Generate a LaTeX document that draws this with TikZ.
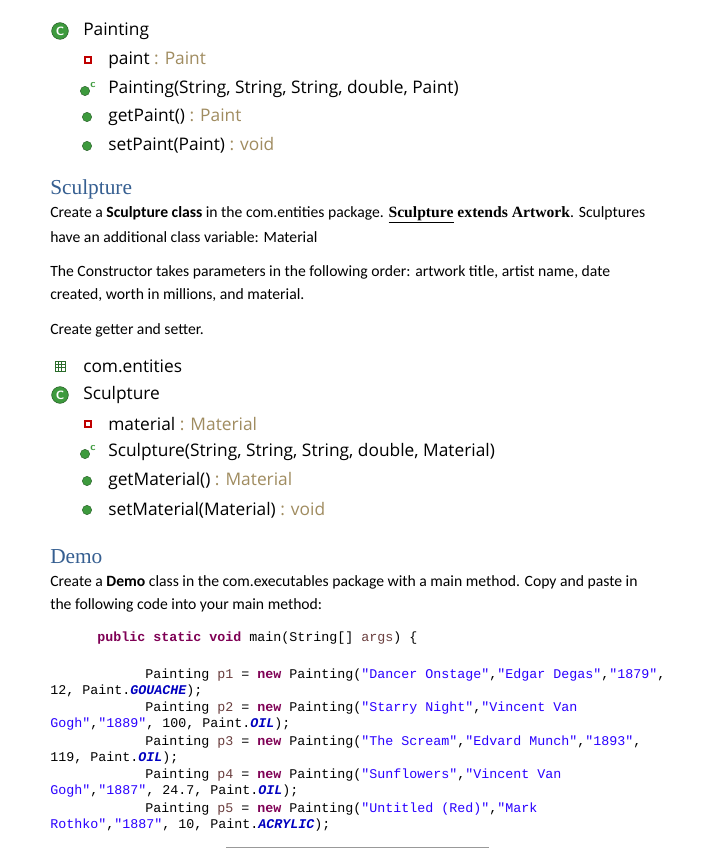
\documentclass[tikz,border=0pt]{standalone}
\usepackage{fontspec}
\setmainfont{Carlito}
\newfontfamily\eclf{Open Sans}
\newfontfamily\headf{Liberation Serif}
\newfontfamily\codef{Liberation Mono}
\definecolor{hblue}{HTML}{365F91}
\definecolor{kw}{HTML}{7F0055}
\definecolor{str}{HTML}{2A00FF}
\definecolor{var}{HTML}{6A3E3E}
\definecolor{enm}{HTML}{0000C0}
\definecolor{tan}{HTML}{A08C60}
\definecolor{igreen}{HTML}{3D9A3D}
\newcommand{\K}[1]{\textcolor{kw}{\bfseries #1}}
\newcommand{\St}[1]{\textcolor{str}{#1}}
\newcommand{\V}[1]{\textcolor{var}{#1}}
\newcommand{\E}[1]{\textcolor{enm}{\bfseries\itshape #1}}
\newcommand{\Ty}[1]{\textcolor{tan}{#1}}
\tikzset{
  ecl/.style={anchor=west,inner sep=0pt,font=\eclf\fontsize{13}{15}\selectfont,text=black},
  body/.style={anchor=west,inner sep=0pt,font=\fontsize{11.75}{13}\selectfont},
  head/.style={anchor=west,inner sep=0pt,font=\headf\fontsize{16}{18}\selectfont,text=hblue},
  code/.style={anchor=west,inner sep=0pt,font=\codef\fontsize{10}{12}\selectfont},
  dot/.style={circle,fill=igreen,draw=igreen!60!black,line width=0.3pt,minimum size=7pt,inner sep=0pt},
  cls/.style={circle,fill=igreen,draw=igreen!60!black,minimum size=12.5pt,inner sep=0pt,text=white,font=\sffamily\bfseries\fontsize{9}{9}\selectfont},
  fld/.style={draw=red!75!black,fill=white,line width=0.8pt,minimum size=4.5pt,inner sep=0pt},
  ctor/.style={anchor=south west,inner sep=0pt,text=igreen,font=\sffamily\bfseries\fontsize{8}{8}\selectfont}
}
\begin{document}
\begin{tikzpicture}[x=0.75pt,y=-0.75pt]
\useasboundingbox[fill=white] (0,0) rectangle (702,848);
% Painting outline
\node[cls] (ic1) at (60,31) {C};
\node[ecl] (t1) at (83,31) {Painting};
\node[fld] (f1) at (88,60) {};
\node[ecl] (t2) at (108,60) {paint \Ty{: Paint}};
\node[dot] (d1) at (85,91) {};
\node[ctor] (c1) at (90,88) {c};
\node[ecl] (t3) at (108,89) {Painting(String, String, String, double, Paint)};
\node[dot] (d2) at (87,117) {};
\node[ecl] (t4) at (108,117) {getPaint() \Ty{: Paint}};
\node[dot] (d3) at (87,146) {};
\node[ecl] (t5) at (108,145) {setPaint(Paint) \Ty{: void}};
% Sculpture section
\node[head] (h1) at (50,189) {Sculpture};
\node[body] (b1) at (50,215) {Create a \textbf{Sculpture class} in the com.entities package. {\headf\bfseries\underline{Sculpture} extends Artwork}. Sculptures};
\node[body] (b2) at (50,237) {have an additional class variable: Material};
\node[body] (b3) at (50,272) {The Constructor takes parameters in the following order: artwork title, artist name, date};
\node[body] (b4) at (50,295) {created, worth in millions, and material.};
\node[body] (b5) at (50,330) {Create getter and setter.};
% package icon
\begin{scope}[shift={(60,366)}]
\draw[igreen!70!black,line width=0.6pt] (-5,-5) rectangle (5,5);
\draw[igreen!70!black,line width=0.6pt] (-5,-1.7)--(5,-1.7) (-5,1.7)--(5,1.7) (-1.7,-5)--(-1.7,5) (1.7,-5)--(1.7,5);
\end{scope}
\node[ecl] (t6) at (83,366) {com.entities};
\node[cls] (ic2) at (60,395) {C};
\node[ecl] (t7) at (83,395) {Sculpture};
\node[fld] (f2) at (88,424) {};
\node[ecl] (t8) at (108,424) {material \Ty{: Material}};
\node[dot] (d4) at (85,454) {};
\node[ctor] (c2) at (90,451) {c};
\node[ecl] (t9) at (108,452) {Sculpture(String, String, String, double, Material)};
\node[dot] (d5) at (87,481) {};
\node[ecl] (t10) at (108,481) {getMaterial() \Ty{: Material}};
\node[dot] (d6) at (87,510) {};
\node[ecl] (t11) at (108,510) {setMaterial(Material) \Ty{: void}};
% Demo
\node[head] (h2) at (50,557) {Demo};
\node[body] (b6) at (50,582) {Create a \textbf{Demo} class in the com.executables package with a main method. Copy and paste in};
\node[body] (b7) at (50,605) {the following code into your main method:};
% code
\node[code] (k0) at (97,638) {\K{public static void} main(String[] \V{args}) \{};
\node[code] (k1) at (145,675) {Painting \V{p1} = \K{new} Painting(\St{"Dancer Onstage"},\St{"Edgar Degas"},\St{"1879"},};
\node[code] (k2) at (50,691) {12, Paint.\E{GOUACHE});};
\node[code] (k3) at (145,708) {Painting \V{p2}  = \K{new} Painting(\St{"Starry Night"},\St{"Vincent Van}};
\node[code] (k4) at (50,724) {\St{Gogh"},\St{"1889"}, 100, Paint.\E{OIL});};
\node[code] (k5) at (145,742) {Painting \V{p3} = \K{new} Painting(\St{"The Scream"},\St{"Edvard Munch"},\St{"1893"},};
\node[code] (k6) at (50,758) {119, Paint.\E{OIL});};
\node[code] (k7) at (145,775) {Painting \V{p4}  = \K{new} Painting(\St{"Sunflowers"},\St{"Vincent Van}};
\node[code] (k8) at (50,791) {\St{Gogh"},\St{"1887"}, 24.7, Paint.\E{OIL});};
\node[code] (k9) at (145,809) {Painting \V{p5}  = \K{new} Painting(\St{"Untitled (Red)"},\St{"Mark}};
\node[code] (k10) at (50,825) {\St{Rothko"},\St{"1887"}, 10, Paint.\E{ACRYLIC});};
\coordinate (la) at (226,847);
\coordinate (lb) at (489,847);
\draw[black!40,line width=0.6pt] (la)--(lb);
\end{tikzpicture}
\end{document}
